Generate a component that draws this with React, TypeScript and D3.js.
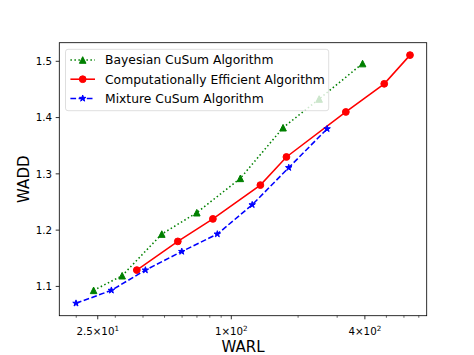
import React from "react";
import * as d3 from "d3";

const bayesX = [23.95, 32.2, 48.6, 69.9, 109.8, 171.1, 248.8, 390.5];
const bayesY = [1.093, 1.119, 1.193, 1.231, 1.292, 1.382, 1.433, 1.496];
const effX = [37.5, 57.4, 82.6, 135.2, 177.2, 328.3, 489, 638.9];
const effY = [1.129, 1.18, 1.22, 1.28, 1.33, 1.41, 1.46, 1.511];
const mixX = [19.95, 28.8, 41.0, 59.8, 86.5, 124.2, 181.5, 270.3];
const mixY = [1.07, 1.093, 1.129, 1.162, 1.193, 1.245, 1.311, 1.38];

const seriesNames = ["Bayesian CuSum Algorithm", "Computationally Efficient Algorithm", "Mixture CuSum Algorithm"];
const yTicks = [1.1, 1.2, 1.3, 1.4, 1.5];
const xMajorTicks = [25, 100, 400];
const xMajorLabels = [["2.5×10", "1"], ["1×10", "2"], ["4×10", "2"]];
const xMinorTicks = [20, 30, 40, 50, 60, 70, 80, 90, 200, 300, 500, 600, 700];

const W = 474, H = 355;
const L = 59.3, R = 426.7, T = 42.7, B = 315.7;
const FONT = "DejaVu Sans, sans-serif";

type Series = { name: string; xs: number[]; ys: number[]; color: string; dash: string; marker: string };

function markerPath(kind: string, x: number, y: number): string {
  if (kind === "circle") {
    const r = 3.4;
    return `M${x - r},${y}a${r},${r} 0 1,0 ${2 * r},0a${r},${r} 0 1,0 ${-2 * r},0Z`;
  }
  if (kind === "triangle") {
    const s = 3.3;
    return `M${x},${y - s}L${x - s},${y + s}L${x + s},${y + s}Z`;
  }
  const sym = d3.symbol().type(d3.symbolStar).size(13)();
  return sym ? sym : "";
}

export default function App() {
  const allX = [...bayesX, ...effX, ...mixX];
  const allY = [...bayesY, ...effY, ...mixY];
  const lx0 = Math.log10(d3.min(allX)!), lx1 = Math.log10(d3.max(allX)!);
  const px = (lx1 - lx0) * 0.05;
  const x = d3.scaleLog().domain([10 ** (lx0 - px), 10 ** (lx1 + px)]).range([L, R]);
  const y0 = d3.min(allY)!, y1 = d3.max(allY)!;
  const py = (y1 - y0) * 0.05;
  const y = d3.scaleLinear().domain([y0 - py, y1 + py]).range([B, T]);

  const series: Series[] = [
    { name: seriesNames[0], xs: bayesX, ys: bayesY, color: "#008000", dash: "1.5,2.5", marker: "triangle" },
    { name: seriesNames[1], xs: effX, ys: effY, color: "#ff0000", dash: "", marker: "circle" },
    { name: seriesNames[2], xs: mixX, ys: mixY, color: "#0000ff", dash: "5.7,2.5", marker: "star" },
  ];

  const line = d3.line<[number, number]>().x((d) => x(d[0])).y((d) => y(d[1]));

  const legX = 65.5, legY = 49.3, legW = 263.2, legH = 61.4;
  const rowY = [60, 79.2, 98.4];
  const hx0 = 70.4, hx1 = 95, tx = 105;

  return (
    <svg width={W} height={H} style={{ position: "absolute", left: 0, top: 0, background: "white" }} fontFamily={FONT}>
      <rect x={0} y={0} width={W} height={H} fill="white" />
      <clipPath id="plotclip">
        <rect x={L} y={T} width={R - L} height={B - T} />
      </clipPath>
      <g clipPath="url(#plotclip)">
        {series.map((s) => {
          const pts = s.xs.map((v, i) => [v, s.ys[i]] as [number, number]);
          return (
            <g key={s.name}>
              <path d={line(pts) || ""} fill="none" stroke={s.color} strokeWidth={1.55} strokeDasharray={s.dash || undefined} />
              {pts.map((p, i) =>
                s.marker === "star" ? (
                  <path key={i} d={markerPath("star", 0, 0)} transform={`translate(${x(p[0])},${y(p[1])})`} fill={s.color} stroke={s.color} strokeWidth={1} strokeLinejoin="miter" />
                ) : (
                  <path key={i} d={markerPath(s.marker, x(p[0]), y(p[1]))} fill={s.color} stroke={s.color} strokeWidth={1} />
                )
              )}
            </g>
          );
        })}
      </g>
      {/* axes frame */}
      <rect x={L} y={T} width={R - L} height={B - T} fill="none" stroke="black" strokeWidth={0.82} />
      {/* y ticks */}
      {yTicks.map((t) => (
        <g key={t}>
          <line x1={L - 3.6} x2={L} y1={y(t)} y2={y(t)} stroke="black" strokeWidth={0.82} />
          <text x={52} y={y(t) + 3.7} fontSize={10.28} textAnchor="end" fill="black">{t.toFixed(1)}</text>
        </g>
      ))}
      {/* x minor ticks */}
      {xMinorTicks.map((t) => (
        <line key={t} x1={x(t)} x2={x(t)} y1={B} y2={B + 2.06} stroke="black" strokeWidth={0.6} />
      ))}
      {/* x major ticks */}
      {xMajorTicks.map((t, i) => (
        <g key={t}>
          <line x1={x(t)} x2={x(t)} y1={B} y2={B + 3.6} stroke="black" strokeWidth={0.82} />
          <text x={x(t)} y={335} fontSize={10.28} textAnchor="middle" fill="black">
            {xMajorLabels[i][0]}
            <tspan fontSize={7.2} dy={-4.2}>{xMajorLabels[i][1]}</tspan>
          </text>
        </g>
      ))}
      <text x={243} y={352} fontSize={15} textAnchor="middle" fill="black">WARL</text>
      <text transform={`translate(28.8,179.2) rotate(-90)`} fontSize={15} textAnchor="middle" fill="black">WADD</text>
      {/* legend */}
      <rect x={legX} y={legY} width={legW} height={legH} rx={2.5} ry={2.5} fill="white" fillOpacity={0.8} stroke="#cccccc" strokeOpacity={0.8} strokeWidth={0.82} />
      {series.map((s, i) => (
        <g key={s.name}>
          <line x1={hx0} x2={hx1} y1={rowY[i]} y2={rowY[i]} stroke={s.color} strokeWidth={1.55} strokeDasharray={s.dash || undefined} />
          {s.marker === "star" ? (
            <path d={markerPath("star", 0, 0)} transform={`translate(${(hx0 + hx1) / 2},${rowY[i]})`} fill={s.color} stroke={s.color} strokeWidth={1} />
          ) : (
            <path d={markerPath(s.marker, (hx0 + hx1) / 2, rowY[i])} fill={s.color} stroke={s.color} strokeWidth={1} />
          )}
          <text x={tx} y={rowY[i] + 4.4} fontSize={12.33} fill="black">{s.name}</text>
        </g>
      ))}
    </svg>
  );
}
